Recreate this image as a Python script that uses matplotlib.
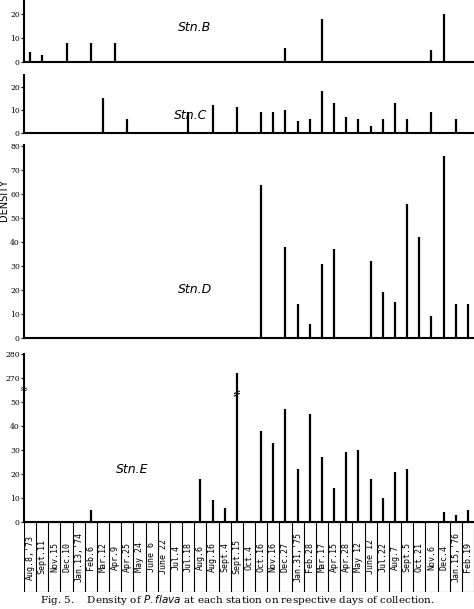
import numpy as np
import matplotlib.pyplot as plt

dates = ["Aug.8,'73", "Sept.11", "Nov.15", "Dec.10", "Jan.13,'74", "Feb.6", "Mar.12",
         "Apr.9", "Apr.25", "May 24", "June 6", "June 22", "Jul.4", "Jul.18", "Aug.6",
         "Aug.16", "Sept.4", "Sept.15", "Oct.4", "Oct.16", "Nov.16", "Dec.27",
         "Jan.31,'75", "Feb.28", "Mar.17", "Apr.15", "Apr.28", "May 12", "June 12",
         "Jul.22", "Aug.7", "Sept.5", "Oct.21", "Nov.6", "Dec.4", "Jan.15,'76", "Feb.19"]
n = len(dates)

stn_b = {0: 4, 1: 3, 3: 8, 5: 8, 7: 8, 21: 6, 24: 18, 33: 5, 34: 20}
stn_c = {6: 15, 8: 6, 13: 9, 15: 12, 17: 11, 19: 9, 20: 9, 21: 10, 22: 5, 23: 6,
         24: 18, 25: 13, 26: 7, 27: 6, 28: 3, 29: 6, 30: 13, 31: 6, 33: 9, 35: 6}
stn_d = {19: 64, 21: 38, 22: 14, 23: 6, 24: 31, 25: 37, 28: 32, 29: 19, 30: 15,
         31: 56, 32: 42, 33: 9, 34: 76, 35: 14, 36: 14}
stn_e = {5: 5, 14: 18, 15: 9, 16: 6, 17: 272, 19: 38, 20: 33, 21: 47, 22: 22,
         23: 45, 24: 27, 25: 14, 26: 29, 27: 30, 28: 18, 29: 10, 30: 21, 31: 22,
         34: 4, 35: 3, 36: 5}

W, H = 474, 609
fig = plt.figure(figsize=(W / 100, H / 100), dpi=100)
plt.rcParams['font.family'] = 'DejaVu Serif'


def make_ax(top, bottom):
    ax = fig.add_axes([24 / W, 1 - bottom / H, 1 - 24 / W, (bottom - top) / H])
    ax.spines['top'].set_visible(False)
    ax.spines['right'].set_visible(False)
    ax.spines['left'].set_linewidth(1.5)
    ax.spines['bottom'].set_linewidth(1.5)
    ax.set_xlim(-0.5, n - 0.5)
    ax.set_xticks([])
    ax.tick_params(axis='y', labelsize=5.5, length=2, pad=1)
    return ax


def bars(ax, d, fn=lambda v: v):
    ax.vlines(list(d.keys()), 0, [fn(v) for v in d.values()], color='black', lw=1.6)


def stn(ax, x, y, s):
    ax.text(x, y, s, transform=ax.transAxes, fontsize=9, style='italic',
            family='DejaVu Sans', ha='center', va='center')


axb = make_ax(0, 62)
bars(axb, stn_b)
axb.set_ylim(0, 25.8)
axb.set_yticks([0, 10, 20])
stn(axb, 0.38, 0.55, 'Stn.B')

axc = make_ax(75, 133)
bars(axc, stn_c)
axc.set_ylim(0, 25)
axc.set_yticks([0, 10, 20])
stn(axc, 0.37, 0.3, 'Stn.C')

axd = make_ax(145, 338)
bars(axd, stn_d)
axd.set_ylim(0, 80.5)
axd.set_yticks(range(0, 81, 10))
stn(axd, 0.38, 0.25, 'Stn.D')
fig.text(4 / W, 1 - 200 / H, 'DENSITY', rotation=90, ha='center', va='center',
         fontsize=7, family='DejaVu Sans')


def brk(v):
    return v if v <= 50 else v - 210


axe = make_ax(354, 522)
bars(axe, stn_e, brk)
axe.set_ylim(0, 70)
axe.set_yticks([0, 10, 20, 30, 40, 50, 60, 70])
axe.set_yticklabels(['0', '10', '20', '30', '40', '50', '270', '280'])
axe.plot([16.8, 17.2], [52.5, 53.5], color='black', lw=0.8)
axe.plot([16.8, 17.2], [53.5, 54.5], color='black', lw=0.8)
axe.text(-0.5, 55, '≈', fontsize=7, ha='center', va='center')
stn(axe, 0.24, 0.31, 'Stn.E')

axl = fig.add_axes([24 / W, 1 - 592 / H, 1 - 24 / W, 70 / H])
axl.set_xlim(-0.5, n - 0.5)
axl.set_ylim(0, 1)
axl.axis('off')
axl.vlines(np.arange(n + 1) - 0.5, 0, 1, color='black', lw=0.8)
axl.hlines([0, 1], -0.5, n - 0.5, color='black', lw=0.8)
for i, d in enumerate(dates):
    axl.text(i, 0.5, d, rotation=90, ha='center', va='center', fontsize=6,
             family='DejaVu Sans Mono')

fig.text(0.5, 1 - 600 / H, 'Fig. 5.    Density of $\\it{P. flava}$ at each station on respective days of collection.',
         ha='center', va='center', fontsize=7.5)

fig.savefig('out.png', dpi=100)
